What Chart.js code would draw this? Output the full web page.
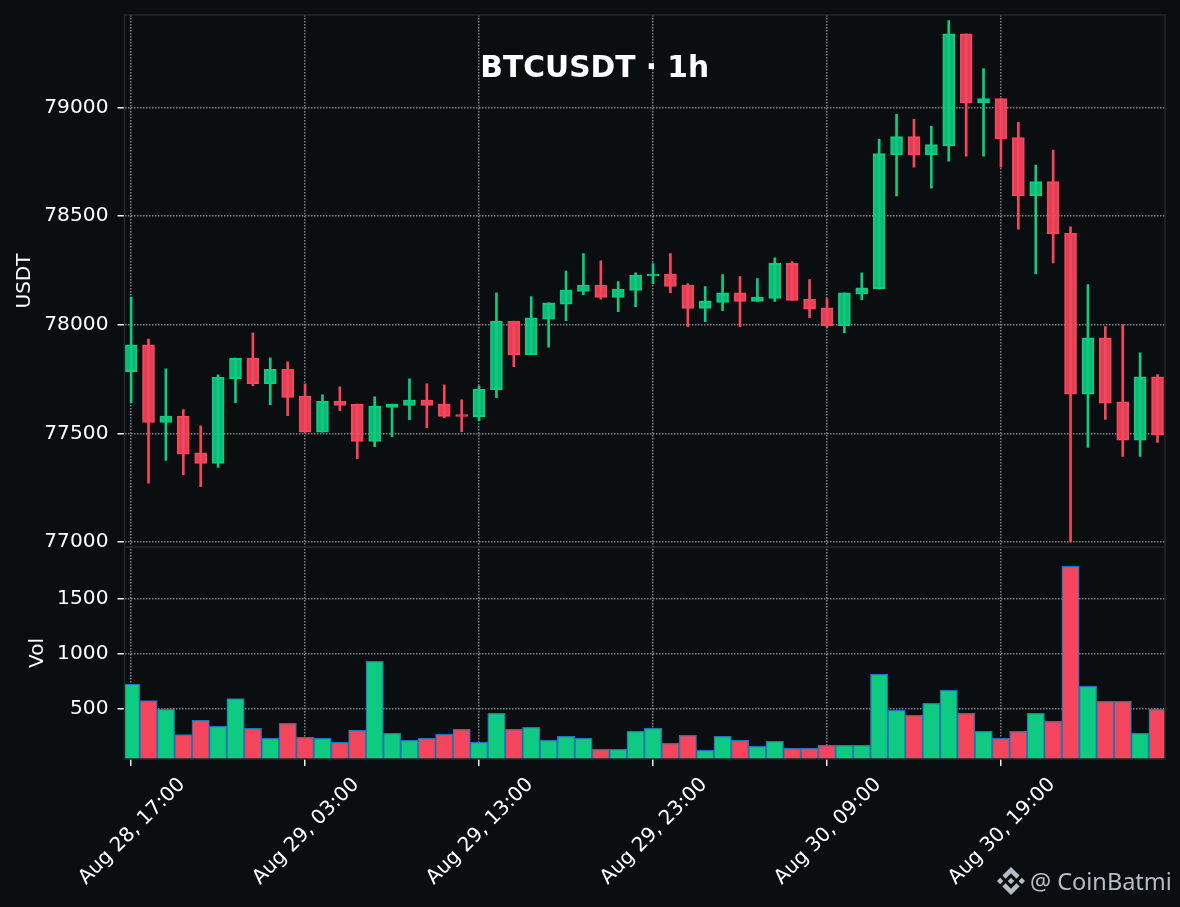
<!DOCTYPE html>
<html>
<head>
<meta charset="utf-8">
<title>BTCUSDT 1h</title>
<script src="https://cdn.jsdelivr.net/npm/chart.js@4"></script>
<style>
    html, body { margin: 0; padding: 0; background: #0b0e11; }
    #wrap { position: relative; width: 1180px; height: 907px; overflow: hidden; }
    #watermark {
        position: absolute; left: 997px; top: 865px;
        display: flex; align-items: center; gap: 5px;
        color: #b7bdc6; font: 23.5px "Noto Sans", sans-serif; white-space: nowrap;
    }
</style>
</head>
<body>
<div id="wrap">
    <canvas id="candleChart" width="1180" height="907"></canvas>
    <div id="watermark">
        <svg width="28" height="28" viewBox="0 0 24 24" fill="#b7bdc6"><path d="M16.624 13.9202l2.7175 2.7154-7.353 7.353-7.353-7.352 2.7175-2.7164 4.6355 4.6595 4.6356-4.6595zm4.6366-4.6366L24 12l-2.7154 2.7164L18.5682 12l2.6924-2.7164zm-9.272.001l2.7163 2.6914-2.7164 2.7174v-.001L9.2721 12l2.7164-2.7154zm-9.2722-.001L5.4088 12l-2.6914 2.6924L0 12l2.7164-2.7164zM11.9885.0115l7.353 7.329-2.7174 2.7154-4.6356-4.6356-4.6355 4.6595-2.7174-2.7154 7.353-7.353z"/></svg>
        <span>@ CoinBatmi</span>
    </div>
</div>
<script>
const opens = [
    77784, 77907, 77550, 77580, 77410, 77362, 77752, 77846, 77729, 77795,
    77671, 77505, 77648, 77635, 77463, 77619, 77628, 77653, 77635, 77586,
    77576, 77701, 78017, 77862, 78025, 78094, 78153, 78182, 78126, 78158,
    78224, 78233, 78182, 78075, 78103, 78146, 78107, 78121, 78284, 78118,
    78077, 77995, 78140, 78165, 78781, 78865, 78781, 78823, 79338, 79020,
    79040, 78861, 78593, 78659, 78421, 77680, 77939, 77645, 77469, 77760,
];
const highs = [
    78127, 77934, 77797, 77609, 77535, 77769, 77846, 77962, 77847, 77829,
    77728, 77677, 77714, 77635, 77668, 77635, 77751, 77728, 77723, 77654,
    77719, 78147, 78017, 78129, 78100, 78247, 78327, 78294, 78198, 78239,
    78281, 78327, 78189, 78175, 78230, 78221, 78212, 78308, 78290, 78207,
    78120, 78146, 78239, 78853, 78968, 78945, 78913, 79399, 79338, 79179,
    79040, 78931, 78734, 78803, 78450, 78184, 77991, 78000, 77871, 77770,
];
const lows = [
    77641, 77271, 77375, 77310, 77255, 77343, 77641, 77719, 77632, 77581,
    77505, 77505, 77604, 77384, 77439, 77485, 77563, 77526, 77572, 77508,
    77558, 77664, 77807, 77862, 77896, 78018, 78138, 78117, 78060, 78083,
    78189, 78147, 77991, 78014, 78064, 77991, 78107, 78107, 78112, 78032,
    77986, 77963, 78115, 78165, 78592, 78725, 78628, 78752, 78775, 78775,
    78725, 78440, 78234, 78284, 77000, 77435, 77564, 77394, 77394, 77458,
];
const closes = [
    77907, 77550, 77580, 77404, 77362, 77758, 77846, 77729, 77795, 77665,
    77505, 77648, 77628, 77463, 77625, 77635, 77653, 77628, 77578, 77578,
    77704, 78017, 77862, 78031, 78100, 78159, 78182, 78126, 78164, 78228,
    78233, 78176, 78075, 78109, 78146, 78107, 78127, 78284, 78112, 78071,
    77995, 78146, 78169, 78787, 78865, 78781, 78829, 79338, 79020, 79040,
    78855, 78593, 78659, 78419, 77680, 77939, 77639, 77469, 77760, 77492,
];
const volumes = [
    727, 576, 497, 267, 397, 342, 594, 324, 233, 370,
    242, 233, 197, 306, 933, 279, 215, 233, 270, 315,
    197, 461, 315, 333, 215, 252, 233, 133, 133, 297,
    324, 188, 261, 124, 252, 215, 161, 206, 142, 142,
    170, 170, 170, 815, 488, 442, 552, 670, 461, 297,
    233, 297, 461, 388, 1797, 706, 570, 570, 279, 497,
];
const tickLabels = [
    "Aug 28, 17:00",
    "Aug 29, 03:00",
    "Aug 29, 13:00",
    "Aug 29, 23:00",
    "Aug 30, 09:00",
    "Aug 30, 19:00",
];
const priceTicks = [77000, 77500, 78000, 78500, 79000];
const volumeTicks = [500, 1000, 1500];

const GREEN = "#0ecb81";
const RED = "#f6465d";
const GREEN_BODY = "rgba(14, 203, 129, 0.9)";
const RED_BODY = "rgba(246, 70, 93, 0.9)";
const TEXT = "#ffffff";
const GRID = "#808386";
const SPINE = "#23282c";
const FONT = "'DejaVu Sans'";

const isUp = opens.map((open, i) => closes[i] >= open);

// border and title are not part of any scale, so they go in a small plugin
const framePlugin = {
    id: "frame",
    afterDatasetsDraw(chart) {
        const { ctx, chartArea, scales } = chart;
        ctx.save();
        ctx.strokeStyle = SPINE;
        ctx.lineWidth = 1.5;
        ctx.strokeRect(chartArea.left, chartArea.top, chartArea.width, chartArea.height);
        ctx.beginPath();
        ctx.moveTo(chartArea.left, scales.y.bottom);
        ctx.lineTo(chartArea.right, scales.y.bottom);
        ctx.stroke();
        ctx.fillStyle = TEXT;
        ctx.font = "bold 29.7px " + FONT;
        ctx.textAlign = "center";
        ctx.textBaseline = "middle";
        ctx.fillText("BTCUSDT · 1h", (chartArea.left + chartArea.right) / 2 - 50, 69);
        ctx.restore();
    },
};

function yAxis(overrides, tickValues) {
    return {
        axis: "y",
        position: "left",
        stack: "panels",
        offset: false,
        afterFit(scale) {
            scale.width = 124.5;
            // tick labels must not push the panels away from the top edge
            scale.paddingTop = 0;
            scale.paddingBottom = 0;
        },
        afterBuildTicks(scale) {
            scale.ticks = tickValues.map((value) => ({ value }));
        },
        grid: {
            color: GRID,
            lineWidth: 1.5,
            tickColor: "#eeeeee",
            tickWidth: 1.5,
            tickLength: 7,
        },
        border: { display: false, dash: [1.5, 1.5] },
        ticks: {
            padding: 9,
            color: TEXT,
            font: { family: FONT, size: 20.2 },
            callback: (value) => String(value),
        },
        ...overrides,
    };
}

function initializeChart() {
    const ctx = document.getElementById("candleChart");

    const config = {
        type: "bar",
        data: {
            datasets: [
                {
                    label: "Wick",
                    yAxisID: "y",
                    data: highs.map((high, i) => ({ x: i, y: [lows[i], high] })),
                    backgroundColor: isUp.map((up) => (up ? GREEN : RED)),
                    barThickness: 2,
                    grouped: false,
                    order: 3,
                },
                {
                    label: "Body",
                    yAxisID: "y",
                    data: opens.map((open, i) => ({ x: i, y: [open, closes[i]] })),
                    backgroundColor: isUp.map((up) => (up ? GREEN_BODY : RED_BODY)),
                    borderColor: isUp.map((up) => (up ? GREEN : RED)),
                    borderWidth: 1.4,
                    borderSkipped: false,
                    barThickness: 12,
                    grouped: false,
                    order: 2,
                },
                {
                    label: "Volume",
                    yAxisID: "yVol",
                    data: volumes.map((volume, i) => ({ x: i, y: volume })),
                    backgroundColor: isUp.map((up) => (up ? GREEN : RED)),
                    borderColor: "#1f77b4",
                    borderWidth: 1.3,
                    barThickness: 17.4,
                    grouped: false,
                    order: 1,
                },
            ],
        },
        options: {
            responsive: false,
            animation: false,
            devicePixelRatio: 1,
            layout: { padding: { top: 15, right: 15, left: 0, bottom: 0 } },
            font: { family: FONT },
            plugins: {
                legend: { display: false },
                title: { display: false },
                tooltip: { enabled: false },
            },
            scales: {
                x: {
                    type: "linear",
                    offset: false,
                    min: -0.38,
                    max: 59.43,
                    afterFit(scale) {
                        scale.height = 148;
                        scale.paddingLeft = 0;
                        scale.paddingRight = 0;
                    },
                    grid: {
                        offset: false,
                        color: GRID,
                        lineWidth: 1.5,
                        tickColor: "#eeeeee",
                        tickWidth: 1.5,
                        tickLength: 7,
                    },
                    border: { display: false, dash: [1.5, 1.5] },
                    ticks: {
                        stepSize: 10,
                        includeBounds: false,
                        minRotation: 45,
                        maxRotation: 45,
                        labelOffset: 51,
                        padding: 7,
                        color: TEXT,
                        font: { family: FONT, size: 20 },
                        callback: (value) => tickLabels[value / 10],
                    },
                },
                yVol: yAxis({
                    min: 45,
                    max: 1973,
                    stackWeight: 212,
                    title: {
                        display: true,
                        text: "Vol",
                        color: TEXT,
                        font: { family: FONT, size: 20 },
                        padding: { top: 26, bottom: 0 },
                    },
                }, volumeTicks),
                y: yAxis({
                    min: 76977,
                    max: 79425,
                    stackWeight: 532,
                    title: {
                        display: true,
                        text: "USDT",
                        color: TEXT,
                        font: { family: FONT, size: 20 },
                        padding: { top: 13, bottom: 0 },
                    },
                }, priceTicks),
            },
        },
        plugins: [framePlugin],
    };

    new Chart(ctx, config);
}

document.addEventListener("DOMContentLoaded", initializeChart);
</script>
</body>
</html>
